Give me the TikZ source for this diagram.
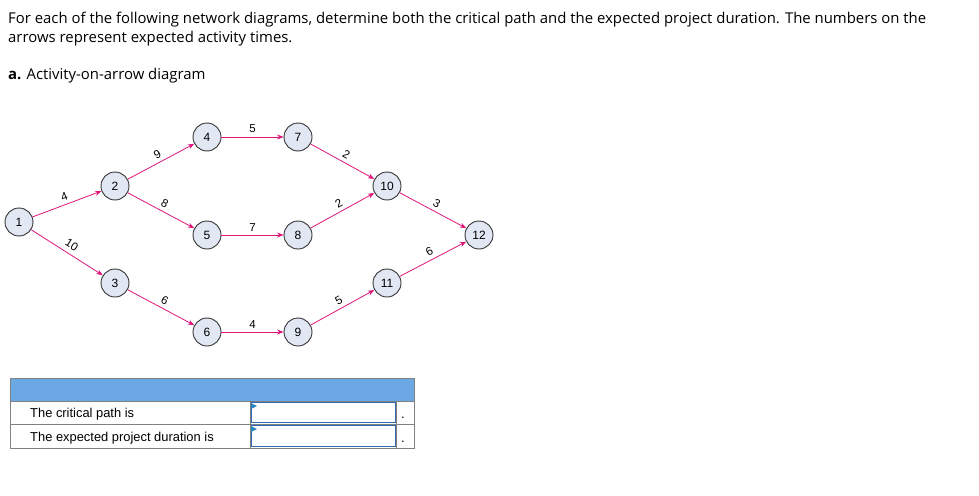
\documentclass[tikz,border=0pt]{standalone}
\usepackage{fontspec}
\setmainfont{Open Sans}
\newfontfamily\arialfont{Liberation Sans}
\usetikzlibrary{arrows.meta, positioning}
\definecolor{arrowcol}{RGB}{222,22,122}
\definecolor{nodecol}{RGB}{226,231,244}
\definecolor{headcol}{RGB}{108,168,228}
\definecolor{boxcol}{RGB}{52,104,176}
\definecolor{gridcol}{RGB}{128,128,128}

\begin{document}
\begin{tikzpicture}[x=1pt,y=-1pt,
    event/.style={circle,draw=black!80,line width=0.9pt,fill=nodecol,minimum size=28pt,inner sep=0pt,font=\arialfont\fontsize{12}{14}\selectfont},
    act/.style={draw=arrowcol,line width=0.8pt,-{Stealth[length=6.5pt,width=5pt]}},
    dur/.style={font=\arialfont\fontsize{11.5}{13}\selectfont,inner sep=3.5pt},
    qtext/.style={font=\fontsize{14.9}{17}\selectfont,anchor=base west,inner sep=0pt},
    rowtext/.style={font=\arialfont\fontsize{12.9}{15}\selectfont,anchor=base west,inner sep=0pt}]
    \useasboundingbox (0,0) rectangle (979,495);
    % question text
    \node[qtext] (q1) at (8,24) {For each of the following network diagrams, determine both the critical path and the expected project duration. The numbers on the};
    \node[qtext] (q2) at (8,43) {arrows represent expected activity times.};
    \node[qtext] (q3) at (8,79) {\textbf{a.} Activity-on-arrow diagram};
    % events
    \node[event] (n1) at (19,222) {1};
    \node[event] (n2) at (115,186) {2};
    \node[event] (n3) at (115,283) {3};
    \node[event] (n4) at (207,137) {4};
    \node[event] (n5) at (207,235) {5};
    \node[event] (n6) at (207,332) {6};
    \node[event] (n7) at (298,137) {7};
    \node[event] (n8) at (298,235) {8};
    \node[event] (n9) at (298,332) {9};
    \node[event] (n10) at (387,186) {10};
    \node[event] (n11) at (387,283) {11};
    \node[event] (n12) at (479,235) {12};
    % activities
    \draw[act] (n1) -- node[dur,sloped,above]{4} (n2);
    \draw[act] (n1) -- node[dur,sloped,above,inner sep=4.5pt]{10} (n3);
    \draw[act] (n2) -- node[dur,sloped,above]{9} (n4);
    \draw[act] (n2) -- node[dur,sloped,above]{8} (n5);
    \draw[act] (n3) -- node[dur,sloped,above]{6} (n6);
    \draw[act] (n4) -- node[dur,above]{5} (n7);
    \draw[act] (n5) -- node[dur,above]{7} (n8);
    \draw[act] (n6) -- node[dur,above]{4} (n9);
    \draw[act] (n7) -- node[dur,sloped,above]{2} (n10);
    \draw[act] (n8) -- node[dur,sloped,above]{2} (n10);
    \draw[act] (n9) -- node[dur,sloped,above]{5} (n11);
    \draw[act] (n10) -- node[dur,sloped,above]{3} (n12);
    \draw[act] (n11) -- node[dur,sloped,above]{6} (n12);
    % answer table
    \fill[headcol] (10,378) rectangle (414,401);
    \draw[gridcol] (10,378) rectangle (414,448);
    \draw[gridcol] (10,401) -- (414,401);
    \draw[gridcol] (10,424) -- (414,424);
    \draw[gridcol] (250,401) -- (250,448);
    \draw[gridcol] (396,401) -- (396,448);
    \node[rowtext] (r1) at (30,417) {The critical path is};
    \node[rowtext] (r2) at (30,441) {The expected project duration is};
    \draw[boxcol,thick] (251.5,402.5) rectangle (395.5,422.5);
    \draw[boxcol,thick] (251.5,425.5) rectangle (395.5,446.5);
    \fill[boxcol!80!cyan] (251,403) -- (257,406) -- (251,409) -- cycle;
    \fill[boxcol!80!cyan] (251,426) -- (257,429) -- (251,432) -- cycle;
    \node[rowtext] (d1) at (401,418) {.};
    \node[rowtext] (d2) at (401,442) {.};
\end{tikzpicture}
\end{document}
